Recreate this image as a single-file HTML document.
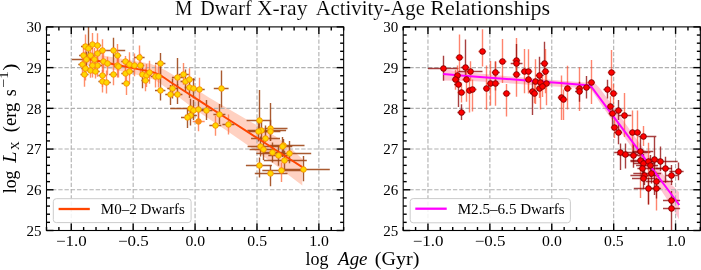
<!DOCTYPE html><html><head><meta charset="utf-8"><style>html,body{margin:0;padding:0;background:#fff;}svg{display:block;will-change:transform;}</style></head><body><svg width="701" height="270" viewBox="0 0 701 270">
<defs><clipPath id="c0"><rect x="46.50" y="26.90" width="297.15" height="203.60"/></clipPath><clipPath id="c1"><rect x="403.20" y="26.90" width="297.15" height="203.60"/></clipPath></defs>
<rect width="701" height="270" fill="#fff"/>
<g clip-path="url(#c0)"><polygon points="83.00,51.50 100.00,55.00 120.00,58.50 140.00,62.00 150.00,63.50 165.00,70.00 180.00,79.00 195.00,88.50 209.30,97.80 229.50,109.40 245.00,118.50 260.00,127.00 277.00,137.20 289.00,146.50 302.30,158.90 302.30,185.60 274.10,164.10 246.00,144.00 225.00,129.50 195.00,109.50 170.00,90.50 155.00,80.00 140.00,75.50 120.00,71.00 100.00,67.00 83.00,64.00" fill="#ffa484" fill-opacity="0.5"/></g>
<g clip-path="url(#c1)"><polygon points="443.10,69.20 470.00,72.50 500.00,75.60 550.00,79.80 585.00,82.40 594.40,82.60 600.00,88.50 610.00,102.00 630.00,130.00 650.00,157.50 670.00,183.00 679.00,192.00 679.00,219.40 670.00,204.00 650.00,173.00 630.00,145.00 610.00,117.00 600.00,103.00 591.00,89.20 580.00,87.80 550.00,86.20 500.00,82.60 470.00,81.00 443.10,80.50" fill="#ffa0b4" fill-opacity="0.62"/></g>
<g stroke="#b0b0b0" stroke-width="1.1" stroke-dasharray="4.35 1.88"><line x1="71.26" y1="230.50" x2="71.26" y2="26.90" stroke-dashoffset="0.17"/><line x1="133.17" y1="230.50" x2="133.17" y2="26.90" stroke-dashoffset="0.17"/><line x1="195.07" y1="230.50" x2="195.07" y2="26.90" stroke-dashoffset="0.17"/><line x1="256.98" y1="230.50" x2="256.98" y2="26.90" stroke-dashoffset="0.17"/><line x1="318.88" y1="230.50" x2="318.88" y2="26.90" stroke-dashoffset="0.17"/><line x1="46.50" y1="189.78" x2="343.65" y2="189.78" stroke-dashoffset="0.7"/><line x1="46.50" y1="149.06" x2="343.65" y2="149.06" stroke-dashoffset="0.7"/><line x1="46.50" y1="108.34" x2="343.65" y2="108.34" stroke-dashoffset="0.7"/><line x1="46.50" y1="67.62" x2="343.65" y2="67.62" stroke-dashoffset="0.7"/></g>
<g stroke="#b0b0b0" stroke-width="1.1" stroke-dasharray="4.35 1.88"><line x1="427.96" y1="230.50" x2="427.96" y2="26.90" stroke-dashoffset="0.17"/><line x1="489.87" y1="230.50" x2="489.87" y2="26.90" stroke-dashoffset="0.17"/><line x1="551.77" y1="230.50" x2="551.77" y2="26.90" stroke-dashoffset="0.17"/><line x1="613.68" y1="230.50" x2="613.68" y2="26.90" stroke-dashoffset="0.17"/><line x1="675.58" y1="230.50" x2="675.58" y2="26.90" stroke-dashoffset="0.17"/><line x1="403.20" y1="189.78" x2="700.35" y2="189.78" stroke-dashoffset="0.1"/><line x1="403.20" y1="149.06" x2="700.35" y2="149.06" stroke-dashoffset="0.1"/><line x1="403.20" y1="108.34" x2="700.35" y2="108.34" stroke-dashoffset="0.1"/><line x1="403.20" y1="67.62" x2="700.35" y2="67.62" stroke-dashoffset="0.1"/></g>
<g clip-path="url(#c0)">
<g stroke-width="1.4" fill="none"><path d="M81.0,46.5H89.0" stroke="#a0481a" stroke-opacity="0.9"/><path d="M85.5,34.5V57.5" stroke="#ff6a3a" stroke-opacity="0.75"/><path d="M83.0,48.5H93.0" stroke="#a0481a" stroke-opacity="0.9"/><path d="M88.5,27.1V60.1" stroke="#a0481a" stroke-opacity="0.9"/><path d="M88.0,44.5H96.0" stroke="#a0481a" stroke-opacity="0.9"/><path d="M92.5,32.9V56.3" stroke="#ff6a3a" stroke-opacity="0.75"/><path d="M93.2,45.5H101.2" stroke="#a0481a" stroke-opacity="0.9"/><path d="M97.5,33.2V56.6" stroke="#ff6a3a" stroke-opacity="0.75"/><path d="M98.8,50.5H106.8" stroke="#a0481a" stroke-opacity="0.9"/><path d="M102.5,39.2V62.2" stroke="#ff6a3a" stroke-opacity="0.75"/><path d="M93.6,53.5H101.6" stroke="#a0481a" stroke-opacity="0.9"/><path d="M97.5,42.2V65.2" stroke="#ff6a3a" stroke-opacity="0.75"/><path d="M86.5,55.5H94.5" stroke="#a0481a" stroke-opacity="0.9"/><path d="M90.5,44.0V67.0" stroke="#ff6a3a" stroke-opacity="0.75"/><path d="M79.1,55.5H87.1" stroke="#a0481a" stroke-opacity="0.9"/><path d="M83.5,44.0V67.0" stroke="#ff6a3a" stroke-opacity="0.75"/><path d="M71.9,59.5H92.8" stroke="#a0481a" stroke-opacity="0.9"/><path d="M86.5,51.6V67.6" stroke="#a0481a" stroke-opacity="0.9"/><path d="M90.2,59.5H98.2" stroke="#a0481a" stroke-opacity="0.9"/><path d="M94.5,48.1V71.1" stroke="#ff6a3a" stroke-opacity="0.75"/><path d="M99.8,61.5H107.8" stroke="#a0481a" stroke-opacity="0.9"/><path d="M103.5,49.6V72.6" stroke="#ff6a3a" stroke-opacity="0.75"/><path d="M103.5,63.5H111.5" stroke="#a0481a" stroke-opacity="0.9"/><path d="M107.5,56.8V75.3" stroke="#ff6a3a" stroke-opacity="0.75"/><path d="M106.7,50.5H125.2" stroke="#a0481a" stroke-opacity="0.9"/><path d="M113.5,37.7V63.7" stroke="#a0481a" stroke-opacity="0.9"/><path d="M113.2,55.5H121.2" stroke="#a0481a" stroke-opacity="0.9"/><path d="M117.5,44.1V66.7" stroke="#ff6a3a" stroke-opacity="0.75"/><path d="M121.3,61.5H129.3" stroke="#a0481a" stroke-opacity="0.9"/><path d="M125.5,55.9V73.4" stroke="#ff6a3a" stroke-opacity="0.75"/><path d="M113.9,65.5H121.9" stroke="#a0481a" stroke-opacity="0.9"/><path d="M117.5,54.4V77.4" stroke="#ff6a3a" stroke-opacity="0.75"/><path d="M93.9,65.5H101.9" stroke="#a0481a" stroke-opacity="0.9"/><path d="M97.5,53.8V76.8" stroke="#ff6a3a" stroke-opacity="0.75"/><path d="M88.7,65.5H96.7" stroke="#a0481a" stroke-opacity="0.9"/><path d="M92.5,54.4V77.4" stroke="#ff6a3a" stroke-opacity="0.75"/><path d="M78.3,64.5H86.3" stroke="#a0481a" stroke-opacity="0.9"/><path d="M82.5,53.3V76.3" stroke="#ff6a3a" stroke-opacity="0.75"/><path d="M81.3,68.5H89.3" stroke="#a0481a" stroke-opacity="0.9"/><path d="M85.5,57.4V80.4" stroke="#ff6a3a" stroke-opacity="0.75"/><path d="M86.5,70.5H94.5" stroke="#a0481a" stroke-opacity="0.9"/><path d="M90.5,59.2V77.7" stroke="#ff6a3a" stroke-opacity="0.75"/><path d="M91.7,71.5H99.7" stroke="#a0481a" stroke-opacity="0.9"/><path d="M95.5,60.1V78.6" stroke="#ff6a3a" stroke-opacity="0.75"/><path d="M80.5,74.5H88.5" stroke="#a0481a" stroke-opacity="0.9"/><path d="M84.5,63.3V86.7" stroke="#ff6a3a" stroke-opacity="0.75"/><path d="M98.4,75.5H106.4" stroke="#a0481a" stroke-opacity="0.9"/><path d="M102.5,64.1V87.1" stroke="#ff6a3a" stroke-opacity="0.75"/><path d="M98.4,81.5H106.4" stroke="#a0481a" stroke-opacity="0.9"/><path d="M102.5,70.0V92.6" stroke="#ff6a3a" stroke-opacity="0.75"/><path d="M102.8,82.5H110.8" stroke="#a0481a" stroke-opacity="0.9"/><path d="M106.5,70.5V93.4" stroke="#ff6a3a" stroke-opacity="0.75"/><path d="M109.2,74.5H117.2" stroke="#a0481a" stroke-opacity="0.9"/><path d="M113.5,62.6V85.2" stroke="#ff6a3a" stroke-opacity="0.75"/><path d="M114.2,66.5H122.2" stroke="#a0481a" stroke-opacity="0.9"/><path d="M118.5,54.7V77.5" stroke="#ff6a3a" stroke-opacity="0.75"/><path d="M121.6,83.5H129.8" stroke="#a0481a" stroke-opacity="0.9"/><path d="M126.5,71.5V94.9" stroke="#ff6a3a" stroke-opacity="0.75"/><path d="M121.3,73.5H129.3" stroke="#a0481a" stroke-opacity="0.9"/><path d="M125.5,61.6V84.6" stroke="#ff6a3a" stroke-opacity="0.75"/><path d="M125.8,71.5H133.8" stroke="#a0481a" stroke-opacity="0.9"/><path d="M129.5,59.6V83.7" stroke="#ff6a3a" stroke-opacity="0.75"/><path d="M125.8,64.5H133.8" stroke="#a0481a" stroke-opacity="0.9"/><path d="M129.5,52.2V75.7" stroke="#ff6a3a" stroke-opacity="0.75"/><path d="M130.7,65.5H138.7" stroke="#a0481a" stroke-opacity="0.9"/><path d="M134.5,53.4V76.3" stroke="#ff6a3a" stroke-opacity="0.75"/><path d="M136.2,65.5H144.2" stroke="#a0481a" stroke-opacity="0.9"/><path d="M140.5,53.7V76.7" stroke="#ff6a3a" stroke-opacity="0.75"/><path d="M134.3,57.5H144.6" stroke="#a0481a" stroke-opacity="0.9"/><path d="M139.5,45.5V65.4" stroke="#ff6a3a" stroke-opacity="0.75"/><path d="M139.9,74.5H145.9" stroke="#ff6a3a" stroke-opacity="0.75"/><path d="M142.5,63.0V88.2" stroke="#a0481a" stroke-opacity="0.9"/><path d="M142.9,75.5H150.9" stroke="#a0481a" stroke-opacity="0.9"/><path d="M146.5,64.1V87.1" stroke="#ff6a3a" stroke-opacity="0.75"/><path d="M145.8,72.5H153.8" stroke="#a0481a" stroke-opacity="0.9"/><path d="M149.5,60.8V83.7" stroke="#ff6a3a" stroke-opacity="0.75"/><path d="M141.4,80.5H149.4" stroke="#a0481a" stroke-opacity="0.9"/><path d="M145.5,68.5V91.2" stroke="#ff6a3a" stroke-opacity="0.75"/><path d="M151.0,76.5H159.0" stroke="#a0481a" stroke-opacity="0.9"/><path d="M155.5,64.5V87.5" stroke="#ff6a3a" stroke-opacity="0.75"/><path d="M154.7,76.5H162.7" stroke="#a0481a" stroke-opacity="0.9"/><path d="M158.5,64.5V87.5" stroke="#ff6a3a" stroke-opacity="0.75"/><path d="M155.0,63.5H165.4" stroke="#a0481a" stroke-opacity="0.9"/><path d="M160.5,53.0V75.0" stroke="#a0481a" stroke-opacity="0.9"/><path d="M155.0,90.5H165.4" stroke="#a0481a" stroke-opacity="0.9"/><path d="M160.5,65.4V100.4" stroke="#a0481a" stroke-opacity="0.9"/><path d="M167.3,88.5H177.3" stroke="#a0481a" stroke-opacity="0.9"/><path d="M172.5,78.5V98.5" stroke="#a0481a" stroke-opacity="0.9"/><path d="M165.3,94.5H175.3" stroke="#a0481a" stroke-opacity="0.9"/><path d="M170.5,84.9V104.9" stroke="#a0481a" stroke-opacity="0.9"/><path d="M172.4,94.5H182.4" stroke="#a0481a" stroke-opacity="0.9"/><path d="M177.5,84.1V104.1" stroke="#a0481a" stroke-opacity="0.9"/><path d="M171.9,77.5H183.9" stroke="#a0481a" stroke-opacity="0.9"/><path d="M177.5,58.0V87.5" stroke="#a0481a" stroke-opacity="0.9"/><path d="M178.8,74.5H188.8" stroke="#a0481a" stroke-opacity="0.9"/><path d="M183.5,63.0V84.8" stroke="#ff6a3a" stroke-opacity="0.75"/><path d="M180.6,81.5H190.6" stroke="#a0481a" stroke-opacity="0.9"/><path d="M185.5,69.6V91.1" stroke="#a0481a" stroke-opacity="0.9"/><path d="M184.8,79.5H194.8" stroke="#a0481a" stroke-opacity="0.9"/><path d="M189.5,68.2V89.6" stroke="#ff6a3a" stroke-opacity="0.75"/><path d="M184.8,87.5H194.8" stroke="#a0481a" stroke-opacity="0.9"/><path d="M189.5,77.9V97.9" stroke="#a0481a" stroke-opacity="0.9"/><path d="M188.5,88.5H198.5" stroke="#a0481a" stroke-opacity="0.9"/><path d="M193.5,78.2V98.2" stroke="#a0481a" stroke-opacity="0.9"/><path d="M194.7,89.5H204.7" stroke="#a0481a" stroke-opacity="0.9"/><path d="M199.5,77.8V99.7" stroke="#ff6a3a" stroke-opacity="0.75"/><path d="M213.8,88.5H228.6" stroke="#a0481a" stroke-opacity="0.9"/><path d="M221.5,70.4V107.4" stroke="#a0481a" stroke-opacity="0.9"/><path d="M170.2,108.5H196.9" stroke="#a0481a" stroke-opacity="0.9"/><path d="M190.5,98.8V118.8" stroke="#a0481a" stroke-opacity="0.9"/><path d="M187.5,110.5H199.5" stroke="#a0481a" stroke-opacity="0.9"/><path d="M193.5,100.1V120.1" stroke="#a0481a" stroke-opacity="0.9"/><path d="M192.7,109.5H204.7" stroke="#a0481a" stroke-opacity="0.9"/><path d="M198.5,99.1V119.1" stroke="#a0481a" stroke-opacity="0.9"/><path d="M200.5,110.5H212.5" stroke="#a0481a" stroke-opacity="0.9"/><path d="M206.5,100.1V120.1" stroke="#a0481a" stroke-opacity="0.9"/><path d="M184.9,115.5H196.9" stroke="#a0481a" stroke-opacity="0.9"/><path d="M190.5,105.6V125.6" stroke="#a0481a" stroke-opacity="0.9"/><path d="M181.0,117.5H193.0" stroke="#a0481a" stroke-opacity="0.9"/><path d="M187.5,107.9V127.9" stroke="#a0481a" stroke-opacity="0.9"/><path d="M192.7,121.5H204.7" stroke="#ff6a3a" stroke-opacity="0.75"/><path d="M198.5,111.3V131.3" stroke="#ff6a3a" stroke-opacity="0.75"/><path d="M213.4,114.5H225.4" stroke="#a0481a" stroke-opacity="0.9"/><path d="M219.5,104.0V124.0" stroke="#a0481a" stroke-opacity="0.9"/><path d="M209.3,125.5H221.3" stroke="#a0481a" stroke-opacity="0.9"/><path d="M215.5,115.7V135.7" stroke="#ff6a3a" stroke-opacity="0.75"/><path d="M222.4,124.5H234.4" stroke="#a0481a" stroke-opacity="0.9"/><path d="M228.5,114.6V134.6" stroke="#ff6a3a" stroke-opacity="0.75"/><path d="M246.6,120.5H271.2" stroke="#a0481a" stroke-opacity="0.9"/><path d="M259.5,90.1V132.2" stroke="#a0481a" stroke-opacity="0.9"/><path d="M247.4,130.5H286.1" stroke="#a0481a" stroke-opacity="0.9"/><path d="M261.5,120.6V140.6" stroke="#a0481a" stroke-opacity="0.9"/><path d="M248.5,131.5H268.5" stroke="#a0481a" stroke-opacity="0.9"/><path d="M258.5,121.6V141.6" stroke="#a0481a" stroke-opacity="0.9"/><path d="M264.5,128.5H287.5" stroke="#a0481a" stroke-opacity="0.9"/><path d="M270.5,103.1V140.7" stroke="#a0481a" stroke-opacity="0.9"/><path d="M260.4,131.5H280.4" stroke="#a0481a" stroke-opacity="0.9"/><path d="M270.5,121.1V141.1" stroke="#a0481a" stroke-opacity="0.9"/><path d="M251.1,138.5H280.0" stroke="#a0481a" stroke-opacity="0.9"/><path d="M265.5,125.4V141.8" stroke="#a0481a" stroke-opacity="0.9"/><path d="M247.6,146.5H272.5" stroke="#a0481a" stroke-opacity="0.9"/><path d="M260.5,136.5V156.5" stroke="#a0481a" stroke-opacity="0.9"/><path d="M249.6,149.5H275.0" stroke="#a0481a" stroke-opacity="0.9"/><path d="M263.5,139.9V159.9" stroke="#a0481a" stroke-opacity="0.9"/><path d="M269.5,145.5H304.5" stroke="#a0481a" stroke-opacity="0.9"/><path d="M283.5,138.9V155.9" stroke="#a0481a" stroke-opacity="0.9"/><path d="M272.3,146.5H292.3" stroke="#a0481a" stroke-opacity="0.9"/><path d="M282.5,136.9V156.9" stroke="#a0481a" stroke-opacity="0.9"/><path d="M262.9,152.5H282.9" stroke="#a0481a" stroke-opacity="0.9"/><path d="M272.5,142.4V162.4" stroke="#a0481a" stroke-opacity="0.9"/><path d="M256.3,153.5H311.2" stroke="#a0481a" stroke-opacity="0.9"/><path d="M289.5,141.0V163.3" stroke="#a0481a" stroke-opacity="0.9"/><path d="M268.3,155.5H288.3" stroke="#a0481a" stroke-opacity="0.9"/><path d="M278.5,145.8V165.8" stroke="#a0481a" stroke-opacity="0.9"/><path d="M263.8,160.5H306.8" stroke="#a0481a" stroke-opacity="0.9"/><path d="M284.5,150.7V170.7" stroke="#a0481a" stroke-opacity="0.9"/><path d="M245.9,165.5H271.9" stroke="#a0481a" stroke-opacity="0.9"/><path d="M259.5,157.6V177.4" stroke="#a0481a" stroke-opacity="0.9"/><path d="M254.8,173.5H287.5" stroke="#a0481a" stroke-opacity="0.9"/><path d="M270.5,165.0V186.3" stroke="#a0481a" stroke-opacity="0.9"/><path d="M262.3,170.5H302.3" stroke="#a0481a" stroke-opacity="0.9"/><path d="M281.5,162.5V181.9" stroke="#ff6a3a" stroke-opacity="0.75"/><path d="M284.5,169.5H329.8" stroke="#a0481a" stroke-opacity="0.9"/><path d="M303.5,155.9V181.2" stroke="#a0481a" stroke-opacity="0.9"/></g>
<polyline points="83.00,58.00 100.00,61.30 113.50,64.30 122.20,66.00 134.10,68.40 144.40,70.40 150.00,71.50 155.00,72.90 160.00,75.00 165.00,78.30 170.00,81.80 180.00,88.25 195.00,97.92 210.00,107.60 230.00,120.50 250.00,133.40 270.00,146.30 290.00,159.20 302.30,167.13" fill="none" stroke="#ff4500" stroke-width="1.9"/>
<g stroke="#f59000" stroke-width="0.9"><circle cx="85.5" cy="46.5" r="2.8" fill="#ffd700"/><circle cx="88.5" cy="48.5" r="2.8" fill="#ffd700"/><circle cx="92.5" cy="44.5" r="2.8" fill="#ffd700"/><circle cx="97.5" cy="45.5" r="2.8" fill="#ffd700"/><circle cx="102.5" cy="50.5" r="2.8" fill="#ffd700"/><circle cx="97.5" cy="53.5" r="2.8" fill="#ffd700"/><circle cx="90.5" cy="55.5" r="2.8" fill="#ffd700"/><circle cx="83.5" cy="55.5" r="2.8" fill="#ffd700"/><circle cx="86.5" cy="59.5" r="2.8" fill="#ffd700"/><circle cx="94.5" cy="59.5" r="2.8" fill="#ffd700"/><circle cx="103.5" cy="61.5" r="2.8" fill="#ffd700"/><circle cx="107.5" cy="63.5" r="2.8" fill="#ffd700"/><circle cx="113.5" cy="50.5" r="2.8" fill="#ffd700"/><circle cx="117.5" cy="55.5" r="2.8" fill="#ffd700"/><circle cx="125.5" cy="61.5" r="2.8" fill="#ffd700"/><circle cx="117.5" cy="65.5" r="2.8" fill="#ffd700"/><circle cx="97.5" cy="65.5" r="2.8" fill="#ffd700"/><circle cx="92.5" cy="65.5" r="2.8" fill="#ffd700"/><circle cx="82.5" cy="64.5" r="2.8" fill="#ffd700"/><circle cx="85.5" cy="68.5" r="2.8" fill="#ffd700"/><circle cx="90.5" cy="70.5" r="2.8" fill="#ffd700"/><circle cx="95.5" cy="71.5" r="2.8" fill="#ffd700"/><circle cx="84.5" cy="74.5" r="2.8" fill="#ffd700"/><circle cx="102.5" cy="75.5" r="2.8" fill="#ffd700"/><circle cx="102.5" cy="81.5" r="2.8" fill="#ffd700"/><circle cx="106.5" cy="82.5" r="2.8" fill="#ffd700"/><circle cx="113.5" cy="74.5" r="2.8" fill="#ffd700"/><circle cx="118.5" cy="66.5" r="2.8" fill="#ffd700"/><circle cx="126.5" cy="83.5" r="2.8" fill="#ffd700"/><circle cx="125.5" cy="73.5" r="2.8" fill="#ffd700"/><circle cx="129.5" cy="71.5" r="2.8" fill="#ffd700"/><circle cx="129.5" cy="64.5" r="2.8" fill="#ffd700"/><circle cx="134.5" cy="65.5" r="2.8" fill="#ffd700"/><circle cx="140.5" cy="65.5" r="2.8" fill="#ffd700"/><circle cx="139.5" cy="57.5" r="2.8" fill="#ffd700"/><circle cx="142.5" cy="74.5" r="2.8" fill="#ffd700"/><circle cx="146.5" cy="75.5" r="2.8" fill="#ffd700"/><circle cx="149.5" cy="72.5" r="2.8" fill="#ffd700"/><circle cx="145.5" cy="80.5" r="2.8" fill="#ffd700"/><circle cx="155.5" cy="76.5" r="2.8" fill="#ffd700"/><circle cx="158.5" cy="76.5" r="2.8" fill="#ffd700"/><circle cx="160.5" cy="63.5" r="2.8" fill="#ffd700"/><circle cx="160.5" cy="90.5" r="2.8" fill="#ffd700"/><circle cx="172.5" cy="88.5" r="2.8" fill="#ffd700"/><circle cx="170.5" cy="94.5" r="2.8" fill="#ffd700"/><circle cx="177.5" cy="94.5" r="2.8" fill="#ffd700"/><circle cx="177.5" cy="77.5" r="2.8" fill="#ffd700"/><circle cx="183.5" cy="74.5" r="2.8" fill="#ffd700"/><circle cx="185.5" cy="81.5" r="2.8" fill="#ffd700"/><circle cx="189.5" cy="79.5" r="2.8" fill="#ffd700"/><circle cx="189.5" cy="87.5" r="2.8" fill="#ffd700"/><circle cx="193.5" cy="88.5" r="2.8" fill="#ffd700"/><circle cx="199.5" cy="89.5" r="2.8" fill="#ffd700"/><circle cx="221.5" cy="88.5" r="2.8" fill="#ffd700"/><circle cx="190.5" cy="108.5" r="2.8" fill="#ffd700"/><circle cx="193.5" cy="110.5" r="2.8" fill="#ffd700"/><circle cx="198.5" cy="109.5" r="2.8" fill="#ffd700"/><circle cx="206.5" cy="110.5" r="2.8" fill="#ffd700"/><circle cx="190.5" cy="115.5" r="2.8" fill="#ffd700"/><circle cx="187.5" cy="117.5" r="2.8" fill="#ffd700"/><circle cx="198.5" cy="121.5" r="2.8" fill="#ff8c1a"/><circle cx="219.5" cy="114.5" r="2.8" fill="#ffd700"/><circle cx="215.5" cy="125.5" r="2.8" fill="#ffd700"/><circle cx="228.5" cy="124.5" r="2.8" fill="#ffd700"/><circle cx="259.5" cy="120.5" r="2.8" fill="#ffd700"/><circle cx="261.5" cy="130.5" r="2.8" fill="#ffd700"/><circle cx="258.5" cy="131.5" r="2.8" fill="#ffd700"/><circle cx="270.5" cy="128.5" r="2.8" fill="#ffd700"/><circle cx="270.5" cy="131.5" r="2.8" fill="#ffd700"/><circle cx="265.5" cy="138.5" r="2.8" fill="#ffd700"/><circle cx="260.5" cy="146.5" r="2.8" fill="#ffd700"/><circle cx="263.5" cy="149.5" r="2.8" fill="#ffd700"/><circle cx="283.5" cy="145.5" r="2.8" fill="#ffd700"/><circle cx="282.5" cy="146.5" r="2.8" fill="#ffd700"/><circle cx="272.5" cy="152.5" r="2.8" fill="#ffd700"/><circle cx="289.5" cy="153.5" r="2.8" fill="#ffd700"/><circle cx="278.5" cy="155.5" r="2.8" fill="#ffd700"/><circle cx="284.5" cy="160.5" r="2.8" fill="#ffd700"/><circle cx="259.5" cy="165.5" r="2.8" fill="#ffd700"/><circle cx="270.5" cy="173.5" r="2.8" fill="#ffd700"/><circle cx="281.5" cy="170.5" r="2.8" fill="#ffd700"/><circle cx="303.5" cy="169.5" r="2.8" fill="#ffd700"/></g>
</g>
<g clip-path="url(#c1)">
<g stroke-width="1.4" fill="none"><path d="M427.9,68.5H458.4" stroke="#8b0000" stroke-opacity="0.75"/><path d="M443.5,55.8V80.8" stroke="#8b0000" stroke-opacity="0.75"/><path d="M455.5,57.5H463.5" stroke="#ff4a2a" stroke-opacity="0.68"/><path d="M459.5,34.4V72.0" stroke="#ff4a2a" stroke-opacity="0.68"/><path d="M461.1,67.5H469.1" stroke="#8b0000" stroke-opacity="0.75"/><path d="M465.5,39.6V77.9" stroke="#8b0000" stroke-opacity="0.75"/><path d="M458.2,71.5H482.5" stroke="#8b0000" stroke-opacity="0.75"/><path d="M470.5,61.2V81.2" stroke="#ff4a2a" stroke-opacity="0.68"/><path d="M453.0,75.5H461.0" stroke="#ff4a2a" stroke-opacity="0.68"/><path d="M457.5,65.4V85.4" stroke="#ff4a2a" stroke-opacity="0.68"/><path d="M451.8,79.5H459.8" stroke="#ff4a2a" stroke-opacity="0.68"/><path d="M455.5,69.8V89.8" stroke="#ff4a2a" stroke-opacity="0.68"/><path d="M454.0,84.5H462.0" stroke="#8b0000" stroke-opacity="0.75"/><path d="M458.5,74.3V106.9" stroke="#8b0000" stroke-opacity="0.75"/><path d="M462.2,79.5H470.2" stroke="#ff4a2a" stroke-opacity="0.68"/><path d="M466.5,69.8V101.8" stroke="#ff4a2a" stroke-opacity="0.68"/><path d="M457.4,92.5H465.4" stroke="#ff4a2a" stroke-opacity="0.68"/><path d="M461.5,82.4V102.4" stroke="#ff4a2a" stroke-opacity="0.68"/><path d="M465.9,90.5H473.9" stroke="#ff4a2a" stroke-opacity="0.68"/><path d="M469.5,80.2V112.5" stroke="#ff4a2a" stroke-opacity="0.68"/><path d="M468.8,89.5H476.8" stroke="#ff4a2a" stroke-opacity="0.68"/><path d="M472.5,79.4V111.6" stroke="#ff4a2a" stroke-opacity="0.68"/><path d="M478.2,51.5H486.2" stroke="#ff4a2a" stroke-opacity="0.68"/><path d="M482.5,29.2V66.5" stroke="#ff4a2a" stroke-opacity="0.68"/><path d="M491.8,72.5H499.8" stroke="#8b0000" stroke-opacity="0.75"/><path d="M495.5,61.4V90.4" stroke="#8b0000" stroke-opacity="0.75"/><path d="M486.3,83.5H494.3" stroke="#ff4a2a" stroke-opacity="0.68"/><path d="M490.5,61.1V105.4" stroke="#ff4a2a" stroke-opacity="0.68"/><path d="M491.8,83.5H499.8" stroke="#ff4a2a" stroke-opacity="0.68"/><path d="M495.5,61.5V105.7" stroke="#ff4a2a" stroke-opacity="0.68"/><path d="M482.9,88.5H490.9" stroke="#ff4a2a" stroke-opacity="0.68"/><path d="M486.5,65.6V109.8" stroke="#ff4a2a" stroke-opacity="0.68"/><path d="M498.7,61.5H506.7" stroke="#ff4a2a" stroke-opacity="0.68"/><path d="M502.5,38.9V83.1" stroke="#ff4a2a" stroke-opacity="0.68"/><path d="M457.4,112.5H465.4" stroke="#8b0000" stroke-opacity="0.75"/><path d="M461.5,104.2V119.9" stroke="#8b0000" stroke-opacity="0.75"/><path d="M512.3,60.5H520.3" stroke="#ff4a2a" stroke-opacity="0.68"/><path d="M516.5,38.1V72.4" stroke="#ff4a2a" stroke-opacity="0.68"/><path d="M510.7,63.5H522.5" stroke="#8b0000" stroke-opacity="0.75"/><path d="M516.5,44.1V73.1" stroke="#8b0000" stroke-opacity="0.75"/><path d="M502.7,93.5H510.7" stroke="#ff4a2a" stroke-opacity="0.68"/><path d="M506.5,83.9V116.5" stroke="#ff4a2a" stroke-opacity="0.68"/><path d="M512.6,74.5H520.6" stroke="#ff4a2a" stroke-opacity="0.68"/><path d="M516.5,64.6V96.8" stroke="#ff4a2a" stroke-opacity="0.68"/><path d="M520.8,71.5H528.8" stroke="#ff4a2a" stroke-opacity="0.68"/><path d="M524.5,49.0V93.2" stroke="#ff4a2a" stroke-opacity="0.68"/><path d="M524.5,71.5H532.5" stroke="#ff4a2a" stroke-opacity="0.68"/><path d="M528.5,49.3V93.6" stroke="#ff4a2a" stroke-opacity="0.68"/><path d="M524.2,79.5H532.2" stroke="#ff4a2a" stroke-opacity="0.68"/><path d="M528.5,69.8V89.8" stroke="#ff4a2a" stroke-opacity="0.68"/><path d="M531.9,81.5H539.9" stroke="#ff4a2a" stroke-opacity="0.68"/><path d="M535.5,59.3V103.9" stroke="#ff4a2a" stroke-opacity="0.68"/><path d="M535.7,75.5H543.7" stroke="#8b0000" stroke-opacity="0.75"/><path d="M539.5,56.7V85.1" stroke="#8b0000" stroke-opacity="0.75"/><path d="M540.2,63.5H548.2" stroke="#8b0000" stroke-opacity="0.75"/><path d="M544.5,41.8V75.1" stroke="#8b0000" stroke-opacity="0.75"/><path d="M541.4,71.5H549.4" stroke="#ff4a2a" stroke-opacity="0.68"/><path d="M545.5,49.0V93.2" stroke="#ff4a2a" stroke-opacity="0.68"/><path d="M542.6,83.5H550.6" stroke="#ff4a2a" stroke-opacity="0.68"/><path d="M546.5,73.5V105.2" stroke="#ff4a2a" stroke-opacity="0.68"/><path d="M536.9,82.5H544.9" stroke="#ff4a2a" stroke-opacity="0.68"/><path d="M540.5,72.8V109.6" stroke="#ff4a2a" stroke-opacity="0.68"/><path d="M535.5,88.5H543.5" stroke="#ff4a2a" stroke-opacity="0.68"/><path d="M539.5,78.0V98.0" stroke="#ff4a2a" stroke-opacity="0.68"/><path d="M538.7,86.5H546.7" stroke="#ff4a2a" stroke-opacity="0.68"/><path d="M542.5,76.9V96.9" stroke="#ff4a2a" stroke-opacity="0.68"/><path d="M528.9,91.5H536.9" stroke="#8b0000" stroke-opacity="0.75"/><path d="M532.5,81.7V115.0" stroke="#8b0000" stroke-opacity="0.75"/><path d="M530.1,93.5H538.1" stroke="#ff4a2a" stroke-opacity="0.68"/><path d="M534.5,83.2V103.2" stroke="#ff4a2a" stroke-opacity="0.68"/><path d="M563.9,88.5H571.9" stroke="#ff4a2a" stroke-opacity="0.68"/><path d="M567.5,65.7V109.6" stroke="#ff4a2a" stroke-opacity="0.68"/><path d="M575.1,88.5H583.1" stroke="#ff4a2a" stroke-opacity="0.68"/><path d="M579.5,67.2V111.1" stroke="#ff4a2a" stroke-opacity="0.68"/><path d="M575.0,91.5H582.5" stroke="#8b0000" stroke-opacity="0.75"/><path d="M579.5,81.7V101.7" stroke="#8b0000" stroke-opacity="0.75"/><path d="M557.7,97.5H565.7" stroke="#ff4a2a" stroke-opacity="0.68"/><path d="M561.5,75.4V120.0" stroke="#ff4a2a" stroke-opacity="0.68"/><path d="M559.9,99.5H567.9" stroke="#ff4a2a" stroke-opacity="0.68"/><path d="M563.5,89.4V120.0" stroke="#ff4a2a" stroke-opacity="0.68"/><path d="M582.9,87.5H590.9" stroke="#8b0000" stroke-opacity="0.75"/><path d="M586.5,76.1V98.4" stroke="#8b0000" stroke-opacity="0.75"/><path d="M587.1,82.5H595.1" stroke="#ff4a2a" stroke-opacity="0.68"/><path d="M591.5,59.9V104.1" stroke="#ff4a2a" stroke-opacity="0.68"/><path d="M607.7,72.5H615.7" stroke="#ff4a2a" stroke-opacity="0.68"/><path d="M611.5,50.0V93.2" stroke="#ff4a2a" stroke-opacity="0.68"/><path d="M603.4,89.5H611.4" stroke="#8b0000" stroke-opacity="0.75"/><path d="M607.5,79.8V98.4" stroke="#8b0000" stroke-opacity="0.75"/><path d="M609.6,93.5H617.6" stroke="#ff4a2a" stroke-opacity="0.68"/><path d="M613.5,83.9V103.9" stroke="#ff4a2a" stroke-opacity="0.68"/><path d="M606.7,106.5H614.7" stroke="#ff4a2a" stroke-opacity="0.68"/><path d="M610.5,96.2V116.2" stroke="#ff4a2a" stroke-opacity="0.68"/><path d="M608.6,113.5H616.6" stroke="#8b0000" stroke-opacity="0.75"/><path d="M612.5,108.9V130.3" stroke="#8b0000" stroke-opacity="0.75"/><path d="M614.4,110.5H622.4" stroke="#8b0000" stroke-opacity="0.75"/><path d="M618.5,100.1V120.1" stroke="#8b0000" stroke-opacity="0.75"/><path d="M618.8,115.5H631.4" stroke="#8b0000" stroke-opacity="0.75"/><path d="M624.5,93.1V137.1" stroke="#ff4a2a" stroke-opacity="0.68"/><path d="M610.7,127.5H618.7" stroke="#ff4a2a" stroke-opacity="0.68"/><path d="M614.5,117.9V137.9" stroke="#ff4a2a" stroke-opacity="0.68"/><path d="M614.1,132.5H622.1" stroke="#8b0000" stroke-opacity="0.75"/><path d="M618.5,122.9V144.3" stroke="#8b0000" stroke-opacity="0.75"/><path d="M628.9,132.5H636.9" stroke="#ff4a2a" stroke-opacity="0.68"/><path d="M632.5,110.4V151.7" stroke="#ff4a2a" stroke-opacity="0.68"/><path d="M633.1,132.5H641.1" stroke="#ff4a2a" stroke-opacity="0.68"/><path d="M637.5,110.4V151.6" stroke="#ff4a2a" stroke-opacity="0.68"/><path d="M638.5,136.5H656.3" stroke="#8b0000" stroke-opacity="0.75"/><path d="M643.5,126.1V146.1" stroke="#ff4a2a" stroke-opacity="0.68"/><path d="M614.2,152.5H650.4" stroke="#8b0000" stroke-opacity="0.75"/><path d="M620.5,143.5V169.9" stroke="#8b0000" stroke-opacity="0.75"/><path d="M616.9,154.5H637.9" stroke="#8b0000" stroke-opacity="0.75"/><path d="M625.5,143.4V168.4" stroke="#8b0000" stroke-opacity="0.75"/><path d="M621.8,155.5H643.8" stroke="#8b0000" stroke-opacity="0.75"/><path d="M633.5,143.7V167.7" stroke="#8b0000" stroke-opacity="0.75"/><path d="M632.3,151.5H653.3" stroke="#8b0000" stroke-opacity="0.75"/><path d="M640.5,136.4V161.4" stroke="#8b0000" stroke-opacity="0.75"/><path d="M630.4,160.5H648.8" stroke="#8b0000" stroke-opacity="0.75"/><path d="M640.5,150.2V197.9" stroke="#ff4a2a" stroke-opacity="0.68"/><path d="M633.3,163.5H655.3" stroke="#8b0000" stroke-opacity="0.75"/><path d="M643.5,153.9V173.9" stroke="#8b0000" stroke-opacity="0.75"/><path d="M642.9,161.5H654.9" stroke="#8b0000" stroke-opacity="0.75"/><path d="M648.5,142.8V204.6" stroke="#ff4a2a" stroke-opacity="0.68"/><path d="M636.1,165.5H658.1" stroke="#8b0000" stroke-opacity="0.75"/><path d="M650.5,155.1V177.1" stroke="#8b0000" stroke-opacity="0.75"/><path d="M648.1,159.5H660.1" stroke="#8b0000" stroke-opacity="0.75"/><path d="M654.5,136.9V195.0" stroke="#8b0000" stroke-opacity="0.75"/><path d="M630.5,161.5H677.7" stroke="#8b0000" stroke-opacity="0.75"/><path d="M660.5,146.5V171.0" stroke="#8b0000" stroke-opacity="0.75"/><path d="M656.0,168.5H672.0" stroke="#8b0000" stroke-opacity="0.75"/><path d="M665.5,156.7V182.7" stroke="#8b0000" stroke-opacity="0.75"/><path d="M637.4,168.5H669.4" stroke="#8b0000" stroke-opacity="0.75"/><path d="M642.5,158.7V178.7" stroke="#8b0000" stroke-opacity="0.75"/><path d="M630.4,175.5H659.3" stroke="#8b0000" stroke-opacity="0.75"/><path d="M644.5,165.1V185.1" stroke="#8b0000" stroke-opacity="0.75"/><path d="M632.0,178.5H655.0" stroke="#8b0000" stroke-opacity="0.75"/><path d="M643.5,168.8V188.8" stroke="#8b0000" stroke-opacity="0.75"/><path d="M633.3,173.5H661.1" stroke="#8b0000" stroke-opacity="0.75"/><path d="M651.5,163.6V183.6" stroke="#8b0000" stroke-opacity="0.75"/><path d="M645.7,181.5H673.0" stroke="#8b0000" stroke-opacity="0.75"/><path d="M656.5,171.4V210.5" stroke="#ff4a2a" stroke-opacity="0.68"/><path d="M665.9,175.5H677.9" stroke="#8b0000" stroke-opacity="0.75"/><path d="M671.5,165.1V185.1" stroke="#8b0000" stroke-opacity="0.75"/><path d="M669.4,171.5H683.6" stroke="#8b0000" stroke-opacity="0.75"/><path d="M678.5,162.5V180.3" stroke="#8b0000" stroke-opacity="0.75"/><path d="M633.8,188.5H661.1" stroke="#8b0000" stroke-opacity="0.75"/><path d="M648.5,178.0V204.6" stroke="#8b0000" stroke-opacity="0.75"/><path d="M650.0,188.5H659.3" stroke="#8b0000" stroke-opacity="0.75"/><path d="M656.5,178.4V198.4" stroke="#8b0000" stroke-opacity="0.75"/><path d="M663.0,200.5H680.1" stroke="#8b0000" stroke-opacity="0.75"/><path d="M671.5,190.9V210.9" stroke="#8b0000" stroke-opacity="0.75"/><path d="M663.0,208.5H680.1" stroke="#8b0000" stroke-opacity="0.75"/><path d="M671.5,198.8V238.8" stroke="#8b0000" stroke-opacity="0.75"/></g>
<polyline points="443.10,74.10 470.00,76.17 500.00,78.48 530.00,80.80 560.00,83.11 590.40,85.45 610.00,111.81 630.00,138.70 650.00,165.60 670.00,192.49 679.30,205.00" fill="none" stroke="#ff00ff" stroke-width="2.0"/>
<g stroke="#800000" stroke-width="0.9"><circle cx="443.5" cy="68.5" r="2.85" fill="#ff0000"/><circle cx="459.5" cy="57.5" r="2.85" fill="#ff0000"/><circle cx="465.5" cy="67.5" r="2.85" fill="#ff0000"/><circle cx="470.5" cy="71.5" r="2.85" fill="#ff0000"/><circle cx="457.5" cy="75.5" r="2.85" fill="#ff0000"/><circle cx="455.5" cy="79.5" r="2.85" fill="#ff0000"/><circle cx="458.5" cy="84.5" r="2.85" fill="#ff0000"/><circle cx="466.5" cy="79.5" r="2.85" fill="#ff0000"/><circle cx="461.5" cy="92.5" r="2.85" fill="#ff0000"/><circle cx="469.5" cy="90.5" r="2.85" fill="#ff0000"/><circle cx="472.5" cy="89.5" r="2.85" fill="#ff0000"/><circle cx="482.5" cy="51.5" r="2.85" fill="#ff0000"/><circle cx="495.5" cy="72.5" r="2.85" fill="#ff0000"/><circle cx="490.5" cy="83.5" r="2.85" fill="#ff0000"/><circle cx="495.5" cy="83.5" r="2.85" fill="#ff0000"/><circle cx="486.5" cy="88.5" r="2.85" fill="#ff0000"/><circle cx="502.5" cy="61.5" r="2.85" fill="#ff0000"/><circle cx="461.5" cy="112.5" r="2.85" fill="#ff0000"/><circle cx="516.5" cy="60.5" r="2.85" fill="#ff0000"/><circle cx="516.5" cy="63.5" r="2.85" fill="#ff0000"/><circle cx="506.5" cy="93.5" r="2.85" fill="#ff0000"/><circle cx="516.5" cy="74.5" r="2.85" fill="#ff0000"/><circle cx="524.5" cy="71.5" r="2.85" fill="#ff0000"/><circle cx="528.5" cy="71.5" r="2.85" fill="#ff0000"/><circle cx="528.5" cy="79.5" r="2.85" fill="#ff0000"/><circle cx="535.5" cy="81.5" r="2.85" fill="#ff0000"/><circle cx="539.5" cy="75.5" r="2.85" fill="#ff0000"/><circle cx="544.5" cy="63.5" r="2.85" fill="#ff0000"/><circle cx="545.5" cy="71.5" r="2.85" fill="#ff0000"/><circle cx="546.5" cy="83.5" r="2.85" fill="#ff0000"/><circle cx="540.5" cy="82.5" r="2.85" fill="#ff0000"/><circle cx="539.5" cy="88.5" r="2.85" fill="#ff0000"/><circle cx="542.5" cy="86.5" r="2.85" fill="#ff0000"/><circle cx="532.5" cy="91.5" r="2.85" fill="#ff0000"/><circle cx="534.5" cy="93.5" r="2.85" fill="#ff0000"/><circle cx="567.5" cy="88.5" r="2.85" fill="#ff0000"/><circle cx="579.5" cy="88.5" r="2.85" fill="#ff0000"/><circle cx="579.5" cy="91.5" r="2.85" fill="#ff0000"/><circle cx="561.5" cy="97.5" r="2.85" fill="#ff0000"/><circle cx="563.5" cy="99.5" r="2.85" fill="#ff0000"/><circle cx="586.5" cy="87.5" r="2.85" fill="#ff0000"/><circle cx="591.5" cy="82.5" r="2.85" fill="#ff0000"/><circle cx="611.5" cy="72.5" r="2.85" fill="#ff0000"/><circle cx="607.5" cy="89.5" r="2.85" fill="#ff0000"/><circle cx="613.5" cy="93.5" r="2.85" fill="#ff0000"/><circle cx="610.5" cy="106.5" r="2.85" fill="#ff0000"/><circle cx="612.5" cy="113.5" r="2.85" fill="#ff0000"/><circle cx="618.5" cy="110.5" r="2.85" fill="#ff0000"/><circle cx="624.5" cy="115.5" r="2.85" fill="#ff0000"/><circle cx="614.5" cy="127.5" r="2.85" fill="#ff0000"/><circle cx="618.5" cy="132.5" r="2.85" fill="#ff0000"/><circle cx="632.5" cy="132.5" r="2.85" fill="#ff0000"/><circle cx="637.5" cy="132.5" r="2.85" fill="#ff0000"/><circle cx="643.5" cy="136.5" r="2.85" fill="#ff0000"/><circle cx="620.5" cy="152.5" r="2.85" fill="#ff0000"/><circle cx="625.5" cy="154.5" r="2.85" fill="#ff0000"/><circle cx="633.5" cy="155.5" r="2.85" fill="#ff0000"/><circle cx="640.5" cy="151.5" r="2.85" fill="#ff0000"/><circle cx="640.5" cy="160.5" r="2.85" fill="#ff0000"/><circle cx="643.5" cy="163.5" r="2.85" fill="#ff0000"/><circle cx="648.5" cy="161.5" r="2.85" fill="#ff0000"/><circle cx="650.5" cy="165.5" r="2.85" fill="#ff0000"/><circle cx="654.5" cy="159.5" r="2.85" fill="#ff0000"/><circle cx="660.5" cy="161.5" r="2.85" fill="#ff0000"/><circle cx="665.5" cy="168.5" r="2.85" fill="#ff0000"/><circle cx="642.5" cy="168.5" r="2.85" fill="#ff0000"/><circle cx="644.5" cy="175.5" r="2.85" fill="#ff0000"/><circle cx="643.5" cy="178.5" r="2.85" fill="#ff0000"/><circle cx="651.5" cy="173.5" r="2.85" fill="#ff0000"/><circle cx="656.5" cy="181.5" r="2.85" fill="#ff0000"/><circle cx="671.5" cy="175.5" r="2.85" fill="#ff0000"/><circle cx="678.5" cy="171.5" r="2.85" fill="#ff0000"/><circle cx="648.5" cy="188.5" r="2.85" fill="#ff0000"/><circle cx="656.5" cy="188.5" r="2.85" fill="#ff0000"/><circle cx="671.5" cy="200.5" r="2.85" fill="#ff0000"/><circle cx="671.5" cy="208.5" r="2.85" fill="#ff0000"/></g>
</g>
<g stroke="#000" stroke-width="1.4"><line x1="46.50" y1="230.50" x2="46.50" y2="227.00"/><line x1="46.50" y1="26.90" x2="46.50" y2="30.40"/><line x1="58.88" y1="230.50" x2="58.88" y2="227.00"/><line x1="58.88" y1="26.90" x2="58.88" y2="30.40"/><line x1="71.26" y1="230.50" x2="71.26" y2="223.50"/><line x1="71.26" y1="26.90" x2="71.26" y2="33.90"/><line x1="83.64" y1="230.50" x2="83.64" y2="227.00"/><line x1="83.64" y1="26.90" x2="83.64" y2="30.40"/><line x1="96.02" y1="230.50" x2="96.02" y2="227.00"/><line x1="96.02" y1="26.90" x2="96.02" y2="30.40"/><line x1="108.41" y1="230.50" x2="108.41" y2="227.00"/><line x1="108.41" y1="26.90" x2="108.41" y2="30.40"/><line x1="120.79" y1="230.50" x2="120.79" y2="227.00"/><line x1="120.79" y1="26.90" x2="120.79" y2="30.40"/><line x1="133.17" y1="230.50" x2="133.17" y2="223.50"/><line x1="133.17" y1="26.90" x2="133.17" y2="33.90"/><line x1="145.55" y1="230.50" x2="145.55" y2="227.00"/><line x1="145.55" y1="26.90" x2="145.55" y2="30.40"/><line x1="157.93" y1="230.50" x2="157.93" y2="227.00"/><line x1="157.93" y1="26.90" x2="157.93" y2="30.40"/><line x1="170.31" y1="230.50" x2="170.31" y2="227.00"/><line x1="170.31" y1="26.90" x2="170.31" y2="30.40"/><line x1="182.69" y1="230.50" x2="182.69" y2="227.00"/><line x1="182.69" y1="26.90" x2="182.69" y2="30.40"/><line x1="195.07" y1="230.50" x2="195.07" y2="223.50"/><line x1="195.07" y1="26.90" x2="195.07" y2="33.90"/><line x1="207.45" y1="230.50" x2="207.45" y2="227.00"/><line x1="207.45" y1="26.90" x2="207.45" y2="30.40"/><line x1="219.83" y1="230.50" x2="219.83" y2="227.00"/><line x1="219.83" y1="26.90" x2="219.83" y2="30.40"/><line x1="232.22" y1="230.50" x2="232.22" y2="227.00"/><line x1="232.22" y1="26.90" x2="232.22" y2="30.40"/><line x1="244.60" y1="230.50" x2="244.60" y2="227.00"/><line x1="244.60" y1="26.90" x2="244.60" y2="30.40"/><line x1="256.98" y1="230.50" x2="256.98" y2="223.50"/><line x1="256.98" y1="26.90" x2="256.98" y2="33.90"/><line x1="269.36" y1="230.50" x2="269.36" y2="227.00"/><line x1="269.36" y1="26.90" x2="269.36" y2="30.40"/><line x1="281.74" y1="230.50" x2="281.74" y2="227.00"/><line x1="281.74" y1="26.90" x2="281.74" y2="30.40"/><line x1="294.12" y1="230.50" x2="294.12" y2="227.00"/><line x1="294.12" y1="26.90" x2="294.12" y2="30.40"/><line x1="306.50" y1="230.50" x2="306.50" y2="227.00"/><line x1="306.50" y1="26.90" x2="306.50" y2="30.40"/><line x1="318.88" y1="230.50" x2="318.88" y2="223.50"/><line x1="318.88" y1="26.90" x2="318.88" y2="33.90"/><line x1="331.26" y1="230.50" x2="331.26" y2="227.00"/><line x1="331.26" y1="26.90" x2="331.26" y2="30.40"/><line x1="343.64" y1="230.50" x2="343.64" y2="227.00"/><line x1="343.64" y1="26.90" x2="343.64" y2="30.40"/><line x1="46.50" y1="230.50" x2="53.50" y2="230.50"/><line x1="343.65" y1="230.50" x2="336.65" y2="230.50"/><line x1="46.50" y1="222.36" x2="50.00" y2="222.36"/><line x1="343.65" y1="222.36" x2="340.15" y2="222.36"/><line x1="46.50" y1="214.21" x2="50.00" y2="214.21"/><line x1="343.65" y1="214.21" x2="340.15" y2="214.21"/><line x1="46.50" y1="206.07" x2="50.00" y2="206.07"/><line x1="343.65" y1="206.07" x2="340.15" y2="206.07"/><line x1="46.50" y1="197.92" x2="50.00" y2="197.92"/><line x1="343.65" y1="197.92" x2="340.15" y2="197.92"/><line x1="46.50" y1="189.78" x2="53.50" y2="189.78"/><line x1="343.65" y1="189.78" x2="336.65" y2="189.78"/><line x1="46.50" y1="181.64" x2="50.00" y2="181.64"/><line x1="343.65" y1="181.64" x2="340.15" y2="181.64"/><line x1="46.50" y1="173.49" x2="50.00" y2="173.49"/><line x1="343.65" y1="173.49" x2="340.15" y2="173.49"/><line x1="46.50" y1="165.35" x2="50.00" y2="165.35"/><line x1="343.65" y1="165.35" x2="340.15" y2="165.35"/><line x1="46.50" y1="157.20" x2="50.00" y2="157.20"/><line x1="343.65" y1="157.20" x2="340.15" y2="157.20"/><line x1="46.50" y1="149.06" x2="53.50" y2="149.06"/><line x1="343.65" y1="149.06" x2="336.65" y2="149.06"/><line x1="46.50" y1="140.92" x2="50.00" y2="140.92"/><line x1="343.65" y1="140.92" x2="340.15" y2="140.92"/><line x1="46.50" y1="132.77" x2="50.00" y2="132.77"/><line x1="343.65" y1="132.77" x2="340.15" y2="132.77"/><line x1="46.50" y1="124.63" x2="50.00" y2="124.63"/><line x1="343.65" y1="124.63" x2="340.15" y2="124.63"/><line x1="46.50" y1="116.48" x2="50.00" y2="116.48"/><line x1="343.65" y1="116.48" x2="340.15" y2="116.48"/><line x1="46.50" y1="108.34" x2="53.50" y2="108.34"/><line x1="343.65" y1="108.34" x2="336.65" y2="108.34"/><line x1="46.50" y1="100.20" x2="50.00" y2="100.20"/><line x1="343.65" y1="100.20" x2="340.15" y2="100.20"/><line x1="46.50" y1="92.05" x2="50.00" y2="92.05"/><line x1="343.65" y1="92.05" x2="340.15" y2="92.05"/><line x1="46.50" y1="83.91" x2="50.00" y2="83.91"/><line x1="343.65" y1="83.91" x2="340.15" y2="83.91"/><line x1="46.50" y1="75.76" x2="50.00" y2="75.76"/><line x1="343.65" y1="75.76" x2="340.15" y2="75.76"/><line x1="46.50" y1="67.62" x2="53.50" y2="67.62"/><line x1="343.65" y1="67.62" x2="336.65" y2="67.62"/><line x1="46.50" y1="59.48" x2="50.00" y2="59.48"/><line x1="343.65" y1="59.48" x2="340.15" y2="59.48"/><line x1="46.50" y1="51.33" x2="50.00" y2="51.33"/><line x1="343.65" y1="51.33" x2="340.15" y2="51.33"/><line x1="46.50" y1="43.19" x2="50.00" y2="43.19"/><line x1="343.65" y1="43.19" x2="340.15" y2="43.19"/><line x1="46.50" y1="35.04" x2="50.00" y2="35.04"/><line x1="343.65" y1="35.04" x2="340.15" y2="35.04"/><line x1="46.50" y1="26.90" x2="53.50" y2="26.90"/><line x1="343.65" y1="26.90" x2="336.65" y2="26.90"/></g><rect x="46.50" y="26.90" width="297.15" height="203.60" fill="none" stroke="#000" stroke-width="1.1"/>
<g font-family="Liberation Serif, serif" font-size="15" fill="#000"><text x="71.46" y="246.2" text-anchor="middle" textLength="30.8" lengthAdjust="spacingAndGlyphs">&#8722;1.0</text><text x="133.37" y="246.2" text-anchor="middle" textLength="30.8" lengthAdjust="spacingAndGlyphs">&#8722;0.5</text><text x="195.27" y="246.2" text-anchor="middle" textLength="19.7" lengthAdjust="spacingAndGlyphs">0.0</text><text x="257.18" y="246.2" text-anchor="middle" textLength="19.7" lengthAdjust="spacingAndGlyphs">0.5</text><text x="319.08" y="246.2" text-anchor="middle" textLength="19.7" lengthAdjust="spacingAndGlyphs">1.0</text><text x="41.60" y="235.90" text-anchor="end">25</text><text x="41.60" y="195.18" text-anchor="end">26</text><text x="41.60" y="154.46" text-anchor="end">27</text><text x="41.60" y="113.74" text-anchor="end">28</text><text x="41.60" y="73.02" text-anchor="end">29</text><text x="41.60" y="32.30" text-anchor="end">30</text></g>
<g stroke="#000" stroke-width="1.4"><line x1="403.20" y1="230.50" x2="403.20" y2="227.00"/><line x1="403.20" y1="26.90" x2="403.20" y2="30.40"/><line x1="415.58" y1="230.50" x2="415.58" y2="227.00"/><line x1="415.58" y1="26.90" x2="415.58" y2="30.40"/><line x1="427.96" y1="230.50" x2="427.96" y2="223.50"/><line x1="427.96" y1="26.90" x2="427.96" y2="33.90"/><line x1="440.34" y1="230.50" x2="440.34" y2="227.00"/><line x1="440.34" y1="26.90" x2="440.34" y2="30.40"/><line x1="452.72" y1="230.50" x2="452.72" y2="227.00"/><line x1="452.72" y1="26.90" x2="452.72" y2="30.40"/><line x1="465.11" y1="230.50" x2="465.11" y2="227.00"/><line x1="465.11" y1="26.90" x2="465.11" y2="30.40"/><line x1="477.49" y1="230.50" x2="477.49" y2="227.00"/><line x1="477.49" y1="26.90" x2="477.49" y2="30.40"/><line x1="489.87" y1="230.50" x2="489.87" y2="223.50"/><line x1="489.87" y1="26.90" x2="489.87" y2="33.90"/><line x1="502.25" y1="230.50" x2="502.25" y2="227.00"/><line x1="502.25" y1="26.90" x2="502.25" y2="30.40"/><line x1="514.63" y1="230.50" x2="514.63" y2="227.00"/><line x1="514.63" y1="26.90" x2="514.63" y2="30.40"/><line x1="527.01" y1="230.50" x2="527.01" y2="227.00"/><line x1="527.01" y1="26.90" x2="527.01" y2="30.40"/><line x1="539.39" y1="230.50" x2="539.39" y2="227.00"/><line x1="539.39" y1="26.90" x2="539.39" y2="30.40"/><line x1="551.77" y1="230.50" x2="551.77" y2="223.50"/><line x1="551.77" y1="26.90" x2="551.77" y2="33.90"/><line x1="564.15" y1="230.50" x2="564.15" y2="227.00"/><line x1="564.15" y1="26.90" x2="564.15" y2="30.40"/><line x1="576.53" y1="230.50" x2="576.53" y2="227.00"/><line x1="576.53" y1="26.90" x2="576.53" y2="30.40"/><line x1="588.91" y1="230.50" x2="588.91" y2="227.00"/><line x1="588.91" y1="26.90" x2="588.91" y2="30.40"/><line x1="601.30" y1="230.50" x2="601.30" y2="227.00"/><line x1="601.30" y1="26.90" x2="601.30" y2="30.40"/><line x1="613.68" y1="230.50" x2="613.68" y2="223.50"/><line x1="613.68" y1="26.90" x2="613.68" y2="33.90"/><line x1="626.06" y1="230.50" x2="626.06" y2="227.00"/><line x1="626.06" y1="26.90" x2="626.06" y2="30.40"/><line x1="638.44" y1="230.50" x2="638.44" y2="227.00"/><line x1="638.44" y1="26.90" x2="638.44" y2="30.40"/><line x1="650.82" y1="230.50" x2="650.82" y2="227.00"/><line x1="650.82" y1="26.90" x2="650.82" y2="30.40"/><line x1="663.20" y1="230.50" x2="663.20" y2="227.00"/><line x1="663.20" y1="26.90" x2="663.20" y2="30.40"/><line x1="675.58" y1="230.50" x2="675.58" y2="223.50"/><line x1="675.58" y1="26.90" x2="675.58" y2="33.90"/><line x1="687.96" y1="230.50" x2="687.96" y2="227.00"/><line x1="687.96" y1="26.90" x2="687.96" y2="30.40"/><line x1="700.34" y1="230.50" x2="700.34" y2="227.00"/><line x1="700.34" y1="26.90" x2="700.34" y2="30.40"/><line x1="403.20" y1="230.50" x2="410.20" y2="230.50"/><line x1="700.35" y1="230.50" x2="693.35" y2="230.50"/><line x1="403.20" y1="222.36" x2="406.70" y2="222.36"/><line x1="700.35" y1="222.36" x2="696.85" y2="222.36"/><line x1="403.20" y1="214.21" x2="406.70" y2="214.21"/><line x1="700.35" y1="214.21" x2="696.85" y2="214.21"/><line x1="403.20" y1="206.07" x2="406.70" y2="206.07"/><line x1="700.35" y1="206.07" x2="696.85" y2="206.07"/><line x1="403.20" y1="197.92" x2="406.70" y2="197.92"/><line x1="700.35" y1="197.92" x2="696.85" y2="197.92"/><line x1="403.20" y1="189.78" x2="410.20" y2="189.78"/><line x1="700.35" y1="189.78" x2="693.35" y2="189.78"/><line x1="403.20" y1="181.64" x2="406.70" y2="181.64"/><line x1="700.35" y1="181.64" x2="696.85" y2="181.64"/><line x1="403.20" y1="173.49" x2="406.70" y2="173.49"/><line x1="700.35" y1="173.49" x2="696.85" y2="173.49"/><line x1="403.20" y1="165.35" x2="406.70" y2="165.35"/><line x1="700.35" y1="165.35" x2="696.85" y2="165.35"/><line x1="403.20" y1="157.20" x2="406.70" y2="157.20"/><line x1="700.35" y1="157.20" x2="696.85" y2="157.20"/><line x1="403.20" y1="149.06" x2="410.20" y2="149.06"/><line x1="700.35" y1="149.06" x2="693.35" y2="149.06"/><line x1="403.20" y1="140.92" x2="406.70" y2="140.92"/><line x1="700.35" y1="140.92" x2="696.85" y2="140.92"/><line x1="403.20" y1="132.77" x2="406.70" y2="132.77"/><line x1="700.35" y1="132.77" x2="696.85" y2="132.77"/><line x1="403.20" y1="124.63" x2="406.70" y2="124.63"/><line x1="700.35" y1="124.63" x2="696.85" y2="124.63"/><line x1="403.20" y1="116.48" x2="406.70" y2="116.48"/><line x1="700.35" y1="116.48" x2="696.85" y2="116.48"/><line x1="403.20" y1="108.34" x2="410.20" y2="108.34"/><line x1="700.35" y1="108.34" x2="693.35" y2="108.34"/><line x1="403.20" y1="100.20" x2="406.70" y2="100.20"/><line x1="700.35" y1="100.20" x2="696.85" y2="100.20"/><line x1="403.20" y1="92.05" x2="406.70" y2="92.05"/><line x1="700.35" y1="92.05" x2="696.85" y2="92.05"/><line x1="403.20" y1="83.91" x2="406.70" y2="83.91"/><line x1="700.35" y1="83.91" x2="696.85" y2="83.91"/><line x1="403.20" y1="75.76" x2="406.70" y2="75.76"/><line x1="700.35" y1="75.76" x2="696.85" y2="75.76"/><line x1="403.20" y1="67.62" x2="410.20" y2="67.62"/><line x1="700.35" y1="67.62" x2="693.35" y2="67.62"/><line x1="403.20" y1="59.48" x2="406.70" y2="59.48"/><line x1="700.35" y1="59.48" x2="696.85" y2="59.48"/><line x1="403.20" y1="51.33" x2="406.70" y2="51.33"/><line x1="700.35" y1="51.33" x2="696.85" y2="51.33"/><line x1="403.20" y1="43.19" x2="406.70" y2="43.19"/><line x1="700.35" y1="43.19" x2="696.85" y2="43.19"/><line x1="403.20" y1="35.04" x2="406.70" y2="35.04"/><line x1="700.35" y1="35.04" x2="696.85" y2="35.04"/><line x1="403.20" y1="26.90" x2="410.20" y2="26.90"/><line x1="700.35" y1="26.90" x2="693.35" y2="26.90"/></g><rect x="403.20" y="26.90" width="297.15" height="203.60" fill="none" stroke="#000" stroke-width="1.1"/>
<g font-family="Liberation Serif, serif" font-size="15" fill="#000"><text x="428.16" y="246.2" text-anchor="middle" textLength="30.8" lengthAdjust="spacingAndGlyphs">&#8722;1.0</text><text x="490.07" y="246.2" text-anchor="middle" textLength="30.8" lengthAdjust="spacingAndGlyphs">&#8722;0.5</text><text x="551.97" y="246.2" text-anchor="middle" textLength="19.7" lengthAdjust="spacingAndGlyphs">0.0</text><text x="613.88" y="246.2" text-anchor="middle" textLength="19.7" lengthAdjust="spacingAndGlyphs">0.5</text><text x="675.78" y="246.2" text-anchor="middle" textLength="19.7" lengthAdjust="spacingAndGlyphs">1.0</text><text x="398.30" y="235.90" text-anchor="end">25</text><text x="398.30" y="195.18" text-anchor="end">26</text><text x="398.30" y="154.46" text-anchor="end">27</text><text x="398.30" y="113.74" text-anchor="end">28</text><text x="398.30" y="73.02" text-anchor="end">29</text><text x="398.30" y="32.30" text-anchor="end">30</text></g>
<rect x="53.3" y="198.7" width="137.8" height="23.9" rx="3" ry="3" fill="#fff" fill-opacity="0.85" stroke="#cccccc" stroke-width="1"/><line x1="58.6" y1="209" x2="89.8" y2="209" stroke="#ff4500" stroke-width="2.3"/><text x="100.8" y="214" font-family="Liberation Serif, serif" font-size="15" textLength="84" lengthAdjust="spacingAndGlyphs">M0&#8211;2 Dwarfs</text>
<rect x="410.2" y="198.6" width="160.2" height="24.2" rx="3" ry="3" fill="#fff" fill-opacity="0.85" stroke="#cccccc" stroke-width="1"/><line x1="415.3" y1="208.7" x2="446.7" y2="208.7" stroke="#ff00ff" stroke-width="2.3"/><text x="457.7" y="213.7" font-family="Liberation Serif, serif" font-size="15" textLength="107" lengthAdjust="spacingAndGlyphs">M2.5&#8211;6.5 Dwarfs</text>
<g font-family="Liberation Serif, serif" fill="#000" stroke="#fff" stroke-width="0.12"><text x="175.02" y="15.0" font-size="20.5" textLength="17.34" lengthAdjust="spacingAndGlyphs">M</text><text x="200.31" y="15.0" font-size="20.5" textLength="51.37" lengthAdjust="spacingAndGlyphs">Dwarf</text><text x="256.97" y="15.0" font-size="20.5" textLength="50.49" lengthAdjust="spacingAndGlyphs">X-ray</text><text x="315.65" y="15.0" font-size="20.5" textLength="109.23" lengthAdjust="spacingAndGlyphs">Activity-Age</text><text x="430.26" y="15.0" font-size="20.5" textLength="119.89" lengthAdjust="spacingAndGlyphs">Relationships</text></g>
<g font-family="Liberation Serif, serif" fill="#000"><text x="305.56" y="264.7" font-size="19" textLength="23.00" lengthAdjust="spacingAndGlyphs">log</text><text x="338.10" y="264.7" font-size="19" font-style="italic" textLength="29.40" lengthAdjust="spacingAndGlyphs">Age</text><text x="374.81" y="264.7" font-size="19" textLength="44.53" lengthAdjust="spacingAndGlyphs">(Gyr)</text></g>
<g font-family="Liberation Serif, serif" fill="#000" transform="rotate(-90)"><text x="-193.13" y="15.7" font-size="19" textLength="22.59" lengthAdjust="spacingAndGlyphs">log</text><text x="-162.83" y="15.7" font-size="19" font-style="italic" textLength="11.32" lengthAdjust="spacingAndGlyphs">L</text><text x="-150.12" y="18.9" font-size="13.5" textLength="8.64" lengthAdjust="spacingAndGlyphs">X</text><text x="-132.24" y="15.7" font-size="19" textLength="29.68" lengthAdjust="spacingAndGlyphs">(erg</text><text x="-96.21" y="15.7" font-size="19" textLength="7.04" lengthAdjust="spacingAndGlyphs">s</text><text x="-87.88" y="8.1" font-size="13.5" textLength="16.82" lengthAdjust="spacingAndGlyphs">&#8722;1</text><text x="-70.77" y="15.7" font-size="19" textLength="7.21" lengthAdjust="spacingAndGlyphs">)</text></g>
</svg></body></html>
